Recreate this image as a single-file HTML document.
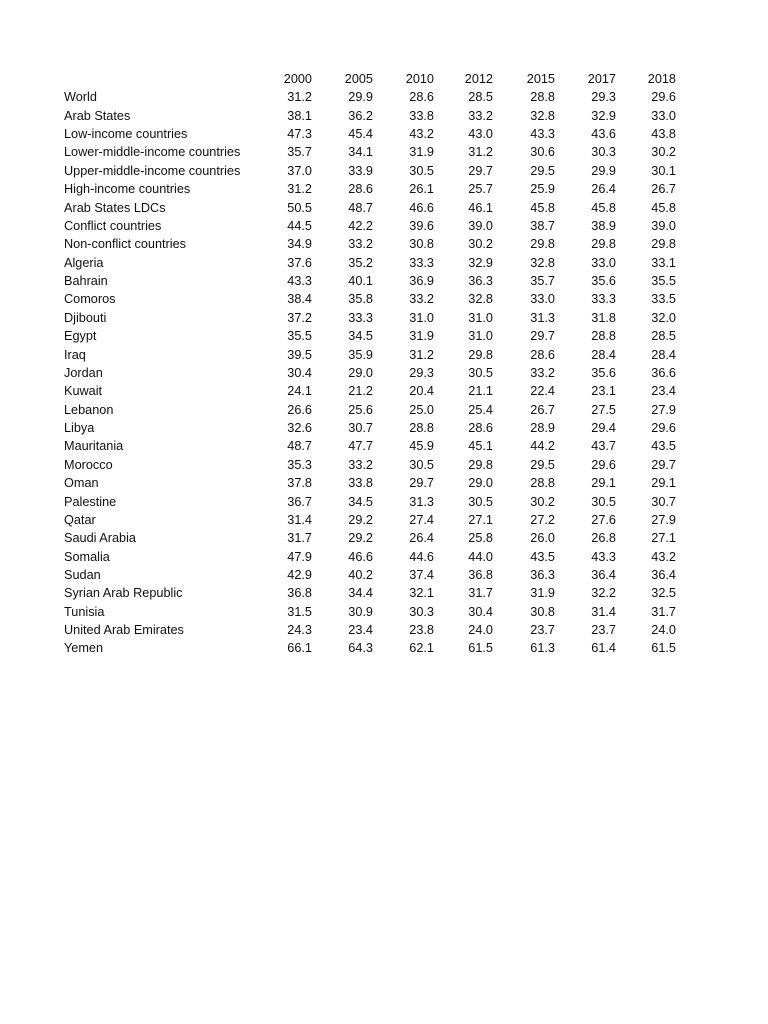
<!DOCTYPE html>
<html><head><meta charset="utf-8"><style>
body{margin:0;width:768px;height:1024px;background:#fff;font-family:"Liberation Sans",sans-serif;font-size:12.7px;color:#111;position:relative;overflow:hidden}
.r{position:absolute;left:0;height:18px;line-height:18px;width:768px}
.r span{position:absolute;top:0}
.l{left:64px}
.c{text-align:right;width:50px}
</style></head><body>
<div id="t"></div>
<script>
var cols=[312,373,434,493,555,616,676];
var d=[["",2000,2005,2010,2012,2015,2017,2018],
["World","31.2","29.9","28.6","28.5","28.8","29.3","29.6"],
["Arab States","38.1","36.2","33.8","33.2","32.8","32.9","33.0"],
["Low-income countries","47.3","45.4","43.2","43.0","43.3","43.6","43.8"],
["Lower-middle-income countries","35.7","34.1","31.9","31.2","30.6","30.3","30.2"],
["Upper-middle-income countries","37.0","33.9","30.5","29.7","29.5","29.9","30.1"],
["High-income countries","31.2","28.6","26.1","25.7","25.9","26.4","26.7"],
["Arab States LDCs","50.5","48.7","46.6","46.1","45.8","45.8","45.8"],
["Conflict countries","44.5","42.2","39.6","39.0","38.7","38.9","39.0"],
["Non-conflict countries","34.9","33.2","30.8","30.2","29.8","29.8","29.8"],
["Algeria","37.6","35.2","33.3","32.9","32.8","33.0","33.1"],
["Bahrain","43.3","40.1","36.9","36.3","35.7","35.6","35.5"],
["Comoros","38.4","35.8","33.2","32.8","33.0","33.3","33.5"],
["Djibouti","37.2","33.3","31.0","31.0","31.3","31.8","32.0"],
["Egypt","35.5","34.5","31.9","31.0","29.7","28.8","28.5"],
["Iraq","39.5","35.9","31.2","29.8","28.6","28.4","28.4"],
["Jordan","30.4","29.0","29.3","30.5","33.2","35.6","36.6"],
["Kuwait","24.1","21.2","20.4","21.1","22.4","23.1","23.4"],
["Lebanon","26.6","25.6","25.0","25.4","26.7","27.5","27.9"],
["Libya","32.6","30.7","28.8","28.6","28.9","29.4","29.6"],
["Mauritania","48.7","47.7","45.9","45.1","44.2","43.7","43.5"],
["Morocco","35.3","33.2","30.5","29.8","29.5","29.6","29.7"],
["Oman","37.8","33.8","29.7","29.0","28.8","29.1","29.1"],
["Palestine","36.7","34.5","31.3","30.5","30.2","30.5","30.7"],
["Qatar","31.4","29.2","27.4","27.1","27.2","27.6","27.9"],
["Saudi Arabia","31.7","29.2","26.4","25.8","26.0","26.8","27.1"],
["Somalia","47.9","46.6","44.6","44.0","43.5","43.3","43.2"],
["Sudan","42.9","40.2","37.4","36.8","36.3","36.4","36.4"],
["Syrian Arab Republic","36.8","34.4","32.1","31.7","31.9","32.2","32.5"],
["Tunisia","31.5","30.9","30.3","30.4","30.8","31.4","31.7"],
["United Arab Emirates","24.3","23.4","23.8","24.0","23.7","23.7","24.0"],
["Yemen","66.1","64.3","62.1","61.5","61.3","61.4","61.5"]];
var h="";
d.forEach(function(r,i){
 var top=70+i*18.37;
 h+='<div class="r" style="top:'+top.toFixed(2)+'px"><span class="l">'+r[0]+'</span>';
 for(var j=1;j<8;j++) h+='<span class="c" style="left:'+(cols[j-1]-50)+'px">'+r[j]+'</span>';
 h+='</div>';
});
document.getElementById("t").innerHTML=h;
</script>
</body></html>
